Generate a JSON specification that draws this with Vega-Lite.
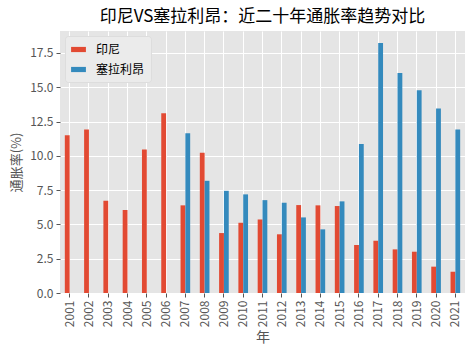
{
  "$schema": "https://vega.github.io/schema/vega-lite/v6.json",
  "autosize": "none",
  "padding": {"left": 60, "top": 31, "right": 9, "bottom": 60},
  "width": 405,
  "height": 262,
  "background": "white",
  "title": {"text": "印尼VS塞拉利昂：近二十年通胀率趋势对比", "font": "Noto Sans CJK SC", "fontSize": 17, "fontWeight": "normal", "color": "#000000", "offset": 5},
  "config": {
    "view": {"fill": "#E5E5E5", "stroke": null},
    "font": "Noto Sans CJK SC"
  },
  "data": {"values": [
    {"year": "2001", "country": "印尼", "rate": 11.5},
    {"year": "2002", "country": "印尼", "rate": 11.92},
    {"year": "2003", "country": "印尼", "rate": 6.72},
    {"year": "2004", "country": "印尼", "rate": 6.05},
    {"year": "2005", "country": "印尼", "rate": 10.47},
    {"year": "2006", "country": "印尼", "rate": 13.1},
    {"year": "2007", "country": "印尼", "rate": 6.39},
    {"year": "2008", "country": "印尼", "rate": 10.22},
    {"year": "2009", "country": "印尼", "rate": 4.37},
    {"year": "2010", "country": "印尼", "rate": 5.12},
    {"year": "2011", "country": "印尼", "rate": 5.36},
    {"year": "2012", "country": "印尼", "rate": 4.28},
    {"year": "2013", "country": "印尼", "rate": 6.41},
    {"year": "2014", "country": "印尼", "rate": 6.39},
    {"year": "2015", "country": "印尼", "rate": 6.34},
    {"year": "2016", "country": "印尼", "rate": 3.5},
    {"year": "2017", "country": "印尼", "rate": 3.81},
    {"year": "2018", "country": "印尼", "rate": 3.18},
    {"year": "2019", "country": "印尼", "rate": 3.01},
    {"year": "2020", "country": "印尼", "rate": 1.92},
    {"year": "2021", "country": "印尼", "rate": 1.55},
    {"year": "2001", "country": "塞拉利昂", "rate": null},
    {"year": "2007", "country": "塞拉利昂", "rate": 11.65},
    {"year": "2008", "country": "塞拉利昂", "rate": 8.18},
    {"year": "2009", "country": "塞拉利昂", "rate": 7.45},
    {"year": "2010", "country": "塞拉利昂", "rate": 7.19},
    {"year": "2011", "country": "塞拉利昂", "rate": 6.77},
    {"year": "2012", "country": "塞拉利昂", "rate": 6.58},
    {"year": "2013", "country": "塞拉利昂", "rate": 5.51},
    {"year": "2014", "country": "塞拉利昂", "rate": 4.64},
    {"year": "2015", "country": "塞拉利昂", "rate": 6.68},
    {"year": "2016", "country": "塞拉利昂", "rate": 10.87},
    {"year": "2017", "country": "塞拉利昂", "rate": 18.23},
    {"year": "2018", "country": "塞拉利昂", "rate": 16.04},
    {"year": "2019", "country": "塞拉利昂", "rate": 14.78},
    {"year": "2020", "country": "塞拉利昂", "rate": 13.45},
    {"year": "2021", "country": "塞拉利昂", "rate": 11.92}
  ]},
  "mark": {"type": "bar"},
  "encoding": {
    "x": {
      "field": "year", "type": "nominal",
      "scale": {"paddingInner": 0.5, "paddingOuter": 0.25},
      "axis": {
        "title": "年", "titleFontSize": 14, "titleFontWeight": "normal", "titleColor": "#555555", "titlePadding": 4,
        "labelAngle": 270, "labelFontSize": 12, "labelColor": "#555555", "labelPadding": 3,
        "tickColor": "#555555", "tickSize": 4, "domain": false, "grid": true, "gridColor": "#FFFFFF", "gridWidth": 1, "bandPosition": 0.5
      }
    },
    "xOffset": {"field": "country", "type": "nominal", "sort": ["印尼", "塞拉利昂"]},
    "y": {
      "field": "rate", "type": "quantitative",
      "scale": {"domain": [0, 19.1], "nice": false},
      "axis": {
        "title": "通胀率(%)", "titleFontSize": 13, "titleFontWeight": "normal", "titleColor": "#555555", "titlePadding": 6,
        "values": [0, 2.5, 5, 7.5, 10, 12.5, 15, 17.5], "format": ".1f",
        "labelFontSize": 12, "labelColor": "#555555", "labelPadding": 3,
        "tickColor": "#555555", "tickSize": 4, "domain": false, "gridColor": "#FFFFFF", "gridWidth": 1
      }
    },
    "color": {
      "field": "country", "type": "nominal",
      "scale": {"domain": ["印尼", "塞拉利昂"], "range": ["#E24A33", "#348ABD"]},
      "legend": {
        "title": null, "orient": "top-left", "offset": 5,
        "fillColor": "#EBEBEB", "strokeColor": "#DDDDDD", "padding": 6, "cornerRadius": 3,
        "symbolType": "M-1,-0.35H1V0.35H-1Z", "symbolSize": 220, "symbolStrokeWidth": 0,
        "labelFontSize": 12, "labelColor": "#000000", "labelOffset": 10, "rowPadding": 6
      }
    }
  }
}
